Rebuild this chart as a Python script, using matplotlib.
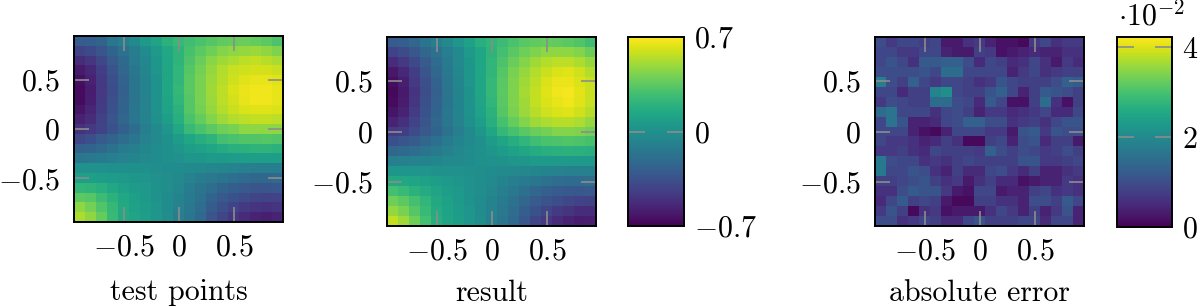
import numpy as np
import matplotlib
matplotlib.use("Agg")
import matplotlib.pyplot as plt
from matplotlib import colors

plt.rcParams['mathtext.fontset'] = 'cm'
plt.rcParams['font.family'] = ['cmr10', 'DejaVu Serif']
plt.rcParams['axes.formatter.use_mathtext'] = True
plt.rcParams['axes.unicode_minus'] = False

tick_values = [-0.5, 0, 0.5]
tick_labels = ['$-0.5$', '$0$', '$0.5$']
titles = ['test points', 'result', 'absolute error']
cbar1_ticks = [-0.7, 0, 0.7]
cbar1_labels = ['$-0.7$', '$0$', '$0.7$']
cbar2_ticks = [0, 0.02, 0.04]
cbar2_labels = ['$0$', '$2$', '$4$']
range1 = (-0.7, 0.7)
range2 = (0.0, 0.0422)

# values in hundredths, top row first
test_points = [
 [-30,-28,-25,-15,-10,-3,6,12,20,24,27,30,33,36,37,38,37,35,31],
 [-42,-39,-33,-25,-18,-11,-2,6,14,21,29,35,39,44,46,48,49,47,43],
 [-52,-48,-40,-30,-22,-13,-5,4,13,21,31,38,45,50,53,56,57,55,52],
 [-60,-54,-44,-34,-24,-15,-6,3,13,22,33,41,48,54,58,60,61,61,59],
 [-64,-57,-46,-36,-26,-16,-7,2,13,22,34,42,49,55,60,63,65,65,63],
 [-66,-59,-47,-37,-27,-16,-8,2,13,23,34,42,50,56,62,66,67,67,65],
 [-66,-58,-46,-36,-26,-16,-8,2,12,22,33,42,49,56,61,65,67,67,65],
 [-62,-55,-45,-35,-25,-15,-8,1,11,20,33,41,48,54,59,62,63,63,62],
 [-57,-52,-43,-33,-24,-15,-8,0,8,18,30,37,44,50,54,56,57,57,56],
 [-50,-47,-42,-35,-27,-20,-10,-3,3,14,25,30,35,39,42,46,47,46,46],
 [-40,-36,-30,-25,-20,-15,-8,-3,0,7,13,17,21,28,30,32,32,33,32],
 [-27,-25,-22,-18,-13,-10,-6,-2,0,4,8,10,13,16,19,20,21,21,20],
 [-15,-14,-12,-10,-8,-6,-4,-2,0,1,3,4,5,6,7,8,8,8,8],
 [1,1,1,0,0,0,0,-1,-2,-2,-3,-4,-5,-6,-8,-9,-10,-10,-10],
 [9,9,8,7,5,4,3,1,-1,-3,-8,-11,-14,-16,-19,-21,-23,-23,-22],
 [22,21,18,14,10,7,5,2,-1,-5,-11,-16,-20,-25,-28,-31,-33,-33,-32],
 [35,33,26,20,14,9,6,2,-2,-7,-12,-18,-25,-31,-35,-38,-41,-42,-42],
 [46,41,32,23,15,10,7,3,-2,-8,-14,-20,-29,-36,-42,-46,-49,-50,-49],
 [53,47,37,25,15,12,8,3,-1,-10,-15,-22,-33,-41,-48,-53,-56,-58,-56],
]

result = [
 [-30,-28,-24,-16,-10,-4,3,10,18,22,26,30,34,36,37,36,34,32,27],
 [-42,-38,-32,-24,-17,-10,-3,5,13,21,28,34,39,43,46,47,46,44,38],
 [-52,-47,-39,-30,-21,-12,-4,4,13,22,31,38,44,50,54,56,56,53,48],
 [-61,-54,-44,-33,-24,-14,-5,4,13,22,33,42,48,54,59,62,63,60,54],
 [-65,-58,-47,-36,-26,-15,-6,3,13,23,34,43,50,56,62,66,66,62,58],
 [-67,-60,-49,-37,-27,-16,-7,2,13,23,35,43,51,57,63,67,68,64,59],
 [-66,-59,-48,-36,-26,-16,-7,2,12,22,34,43,50,57,62,65,67,63,58],
 [-62,-56,-45,-35,-25,-15,-7,1,11,20,33,42,49,55,60,62,63,60,55],
 [-56,-51,-42,-33,-24,-15,-8,0,8,18,29,37,44,50,53,55,55,53,48],
 [-47,-44,-38,-31,-25,-17,-10,-3,4,13,23,29,34,38,41,44,44,43,40],
 [-36,-33,-29,-24,-19,-13,-7,-3,0,7,12,17,22,27,30,31,32,31,29],
 [-24,-22,-20,-16,-12,-9,-5,-2,0,4,7,10,13,16,18,19,20,19,18],
 [-10,-9,-8,-7,-6,-4,-3,-2,0,1,2,3,4,5,6,6,6,6,6],
 [4,4,3,3,2,1,1,0,-1,-2,-3,-4,-5,-6,-7,-8,-9,-9,-9],
 [15,14,12,10,8,5,3,1,-1,-3,-7,-10,-13,-15,-18,-20,-21,-21,-20],
 [28,25,20,16,12,8,5,2,-1,-5,-10,-14,-19,-24,-27,-29,-31,-32,-31],
 [39,35,28,22,15,10,6,2,-2,-7,-12,-17,-24,-30,-34,-37,-40,-42,-43],
 [48,42,33,25,16,11,7,3,-2,-8,-14,-20,-28,-35,-41,-46,-49,-52,-52],
 [57,50,39,28,17,12,8,3,-1,-9,-15,-22,-32,-41,-47,-52,-56,-59,-58],
]

# values in units of 1e-2, top row first
absolute_error = [
 [1.0,.7,.9,.9,.8,.9,.3,.3,.6,.7,.4,.2,.2,.1,.7,.9,.6,.7,.7],
 [.9,.9,.7,.7,.9,.9,.4,.3,.3,.8,.7,.2,.3,.4,.5,.4,.4,.6,.6],
 [.9,1.1,.9,.6,1.2,1.2,1.3,1.3,1.0,.5,.9,.8,.5,.6,.9,.6,.3,.7,.5],
 [1.0,1.0,1.0,1.0,1.1,.9,1.5,1.5,.9,.9,.9,.9,.4,.7,.9,.6,.7,.8,.8],
 [1.8,1.0,.8,1.3,.9,.7,.9,.9,.8,.6,.7,1.1,.9,.8,.8,.8,1.0,1.3,1.2],
 [.9,.9,.5,.8,.8,1.9,2.1,.9,.8,.8,1.1,1.3,.9,.4,.8,1.2,1.1,1.0,.8],
 [.7,1.0,.9,.8,.8,1.5,1.5,1.0,.9,.5,1.2,.9,.2,.2,.8,1.5,.6,.2,.8],
 [1.5,1.6,.9,.9,.9,.6,.9,1.0,.8,.4,.7,.7,.5,.6,.7,.9,.5,.5,.9],
 [.9,1.6,1.1,.4,.4,.5,.9,1.0,1.3,1.3,1.0,1.0,.6,.7,.8,.6,.9,1.1,1.1],
 [.9,.9,.9,.4,.2,.1,.4,.9,.9,.9,.7,.7,.3,1.1,1.2,.7,1.1,1.0,1.0],
 [.9,.7,.7,.6,.4,.5,.8,.6,.1,.1,.8,.9,.4,1.0,1.1,.5,.8,.8,.3],
 [.7,.7,.8,.6,.5,.9,.8,.8,.8,.7,1.3,1.0,.8,1.0,.9,.7,.8,1.0,.8],
 [1.7,1.0,.9,.9,.6,.7,.6,.8,.9,.8,.8,.8,.8,1.1,1.1,.7,.7,.8,.9],
 [1.7,.9,.9,1.1,1.0,.6,.4,.8,.5,.5,.9,1.0,.7,.5,.8,.4,.4,.6,.7],
 [.8,.8,.9,1.0,1.1,.8,.6,.7,.3,.6,.8,.5,.5,.2,.3,.4,.4,.7,.6],
 [.6,.6,1.0,1.2,1.1,1.1,.7,.3,.2,.9,.9,.3,.4,.4,.8,.9,.6,.7,.6],
 [.5,.9,1.2,.8,.9,.8,.3,.1,.1,.8,.8,.6,.6,.4,1.0,1.0,.8,1.2,.9],
 [.7,1.1,.8,.1,.6,.7,.2,.3,.3,.3,.6,.9,.7,.4,.8,.4,.7,1.1,.4],
 [1.0,1.0,.6,.7,.9,.8,.5,.5,.9,1.1,.8,.8,.8,.9,.9,.5,.9,.9,.4],
]

W, H = 1200, 307
FS = 21.5
GRAY = '#8c8c8c'
fig = plt.figure(figsize=(W / 100, H / 100), dpi=100)


def box(x0, y0, x1, y1):
    return fig.add_axes([x0 / W, 1 - y1 / H, (x1 - x0) / W, (y1 - y0) / H])


def style(ax):
    ax.tick_params(axis='both', which='major', direction='in', length=11, width=1.2,
                   color=GRAY, labelsize=FS)
    ax.tick_params(axis='x', pad=9)
    ax.tick_params(axis='y', pad=10)
    for s in ax.spines.values():
        s.set_linewidth(1.4)
        s.set_color('black')


def panel(rect, values, norm, title, label_y):
    ax = box(*rect)
    im = ax.imshow(values, cmap='viridis', norm=norm, extent=(-0.955, 0.945, -0.94, 0.94),
                   aspect='auto', interpolation='nearest')
    ax.set_xticks(tick_values, tick_labels)
    ax.set_yticks(tick_values, tick_labels)
    ax.tick_params(top=True, right=True)
    style(ax)
    fig.text((rect[0] + rect[2]) / 2 / W, 1 - label_y / H, title, ha='center', va='baseline',
             fontsize=FS, family=['cmr10', 'DejaVu Serif'])
    return im


def cbar(im, rect, ticks, labels):
    cax = box(*rect)
    cb = fig.colorbar(im, cax=cax)
    cb.set_ticks(ticks, labels=labels)
    style(cax)
    cax.tick_params(left=True, right=True, length=12, pad=7.5)
    cb.outline.set_linewidth(1.4)
    return cax


norm1 = colors.Normalize(*range1)
norm2 = colors.Normalize(*range2)
im1 = panel((74, 36, 283, 222), np.array(test_points) / 100, norm1, titles[0], 300)
im2 = panel((387, 37, 596, 226), np.array(result) / 100, norm1, titles[1], 301)
im3 = panel((875, 37, 1084, 226), np.array(absolute_error) / 100, norm2, titles[2], 301)
cbar(im2, (628, 37, 684, 226), cbar1_ticks, cbar1_labels)
cbar(im3, (1117, 37, 1172, 227), cbar2_ticks, cbar2_labels)
fig.text(1118 / W, 1 - 25 / H, r'$\cdot 10^{-2}$', fontsize=FS, ha='left', va='baseline')

fig.savefig('out.png', dpi=100)
